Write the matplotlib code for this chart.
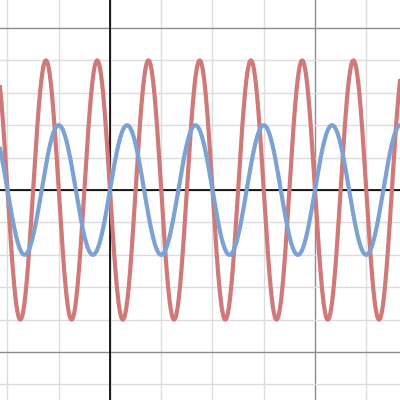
import numpy as np
import matplotlib
matplotlib.use("Agg")
import matplotlib.pyplot as plt

# curve parameters (amplitude, cycles per x-unit, sign)
red_amp, red_freq, red_sign = 4.0, 1.0, -1.0
blue_amp, blue_freq, blue_sign = 2.0, 0.75, 1.0
xlim = (-2.146, 5.659)
ylim = (-6.48, 5.864)

fig = plt.figure(figsize=(4, 4), dpi=100)
ax = fig.add_axes([0, 0, 1, 1])
ax.set_xlim(*xlim); ax.set_ylim(*ylim)
ax.axis('off')

for gx in range(-3, 7):
    c = '#8c8c8c' if gx % 4 == 0 else '#dcdcdc'
    ax.axvline(gx, color=c, lw=1, zorder=0)
for gy in range(-7, 7):
    c = '#8c8c8c' if gy % 5 == 0 else '#dcdcdc'
    ax.axhline(gy, color=c, lw=1, zorder=0)
ax.axvline(0, color='black', lw=1.2, zorder=1)
ax.axhline(0, color='black', lw=1.2, zorder=1)

x = np.linspace(*xlim, 2000)
ax.plot(x, red_sign * red_amp * np.sin(2 * np.pi * red_freq * x), color='#cf7a78', lw=3, zorder=2)
ax.plot(x, blue_sign * blue_amp * np.sin(2 * np.pi * blue_freq * x), color='#7ba2d2', lw=3, zorder=3)

fig.savefig('out.png', dpi=100)
